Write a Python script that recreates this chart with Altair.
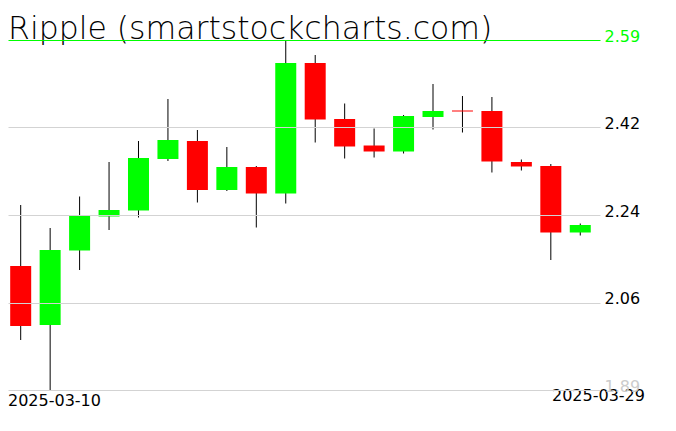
import json
import altair as alt
import pandas as pd

# ---- data ----
dates = ["2025-03-10", "2025-03-11", "2025-03-12", "2025-03-13", "2025-03-14",
         "2025-03-15", "2025-03-16", "2025-03-17", "2025-03-18", "2025-03-19",
         "2025-03-20", "2025-03-21", "2025-03-22", "2025-03-23", "2025-03-24",
         "2025-03-25", "2025-03-26", "2025-03-27", "2025-03-28", "2025-03-29"]
opens = [2.138, 2.020, 2.169, 2.237, 2.249, 2.352, 2.388, 2.290, 2.336, 2.283,
         2.544, 2.432, 2.379, 2.367, 2.436, 2.449, 2.448, 2.346, 2.338, 2.205]
highs = [2.260, 2.214, 2.277, 2.346, 2.388, 2.472, 2.410, 2.376, 2.338, 2.590,
         2.560, 2.463, 2.413, 2.440, 2.502, 2.478, 2.476, 2.351, 2.342, 2.223]
lows = [1.990, 1.890, 2.130, 2.210, 2.235, 2.348, 2.265, 2.288, 2.215, 2.263,
        2.385, 2.353, 2.355, 2.363, 2.411, 2.405, 2.325, 2.329, 2.150, 2.199]
closes = [2.018, 2.170, 2.239, 2.250, 2.354, 2.390, 2.290, 2.336, 2.283, 2.544,
          2.431, 2.377, 2.367, 2.438, 2.448, 2.447, 2.347, 2.337, 2.205, 2.220]

y_ticks = [1.89, 2.065, 2.24, 2.415, 2.59]
y_tick_labels = ["1.89", "2.06", "2.24", "2.42", "2.59"]
date_labels = [dates[0], dates[-1]]
title_text = "Ripple (smartstockcharts.com)"

UP = "#00ff00"
DOWN = "#ff0000"
FONT = "DejaVu Sans"

df = pd.DataFrame({
    "date": dates,
    "i": list(range(len(dates))),
    "open": opens,
    "high": highs,
    "low": lows,
    "close": closes,
})
df["dir"] = ["up" if c >= o else "down" for o, c in zip(opens, closes)]

x_scale = alt.Scale(domain=[-0.431, 19.67], nice=False, zero=False, padding=0)
y_scale = alt.Scale(domain=[min(y_ticks), max(y_ticks)], nice=False, zero=False, padding=0)

label_expr = f"{json.dumps(y_tick_labels)}[indexof({json.dumps(y_ticks)}, datum.value)]"

y_axis = alt.Axis(
    orient="right", values=y_ticks, labelExpr=label_expr, title=None,
    domain=False, ticks=False, grid=True, zindex=1,
    gridColor={"condition": {"test": "datum.value >= 2.58", "value": UP}, "value": "#d3d3d3"},
    gridWidth=1,
    labelColor={"condition": [
        {"test": "datum.value >= 2.58", "value": UP},
        {"test": "datum.value <= 1.9", "value": "#cccccc"}], "value": "#000000"},
    labelFont=FONT, labelFontSize=16, labelAlign="left", labelBaseline="alphabetic",
    labelPadding=4, labelOffset=1,
)

base = alt.Chart(df).encode(
    x=alt.X("i:Q", scale=x_scale, axis=None),
)

wicks = base.mark_rule(color="black", strokeWidth=1).encode(
    y=alt.Y("low:Q", scale=y_scale, axis=y_axis),
    y2="high:Q",
)

bodies = base.mark_bar(size=21, strokeWidth=0, opacity=1).encode(
    y=alt.Y("open:Q", scale=y_scale),
    y2="close:Q",
    color=alt.Color("dir:N", scale=alt.Scale(domain=["up", "down"], range=[UP, DOWN]), legend=None),
)

lab_df = pd.DataFrame({"label": date_labels, "i": [0, len(dates) - 1]})
left_lab = alt.Chart(lab_df.iloc[[0]]).mark_text(
    align="left", baseline="alphabetic", font=FONT, fontSize=16, dx=-12.7, color="black"
).encode(x=alt.X("i:Q", scale=x_scale), y=alt.value(366), text="label:N")
right_lab = alt.Chart(lab_df.iloc[[1]]).mark_text(
    align="right", baseline="alphabetic", font=FONT, fontSize=16, dx=64.7, color="black"
).encode(x=alt.X("i:Q", scale=x_scale), y=alt.value(361), text="label:N")

title_mark = alt.Chart(pd.DataFrame({"t": [title_text]})).mark_text(
    align="left", baseline="alphabetic", font=FONT, fontSize=31.5, fontWeight=200, color="black"
).encode(x=alt.value(0), y=alt.value(-1), text="t:N")

chart = alt.layer(wicks, bodies, left_lab, right_lab, title_mark).properties(
    width=592, height=350,
    autosize=alt.AutoSizeParams(type="none"),
    padding={"left": 0, "right": 60, "top": 32, "bottom": 30},
    background="white",
).configure_view(stroke=None)

chart.save("out.html", embed_options={"renderer": "svg", "actions": False})
